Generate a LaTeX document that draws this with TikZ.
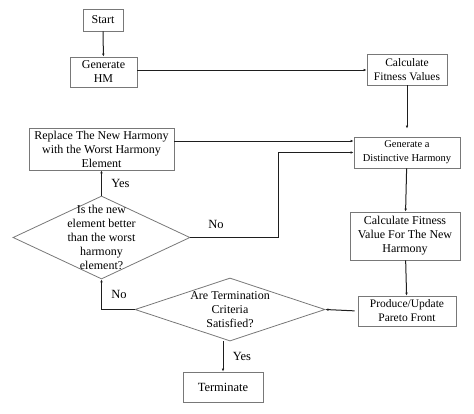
\documentclass[tikz,border=0pt]{standalone}
\usepackage{fontspec}
\setmainfont{Liberation Serif}
\usetikzlibrary{shapes.geometric,arrows.meta,positioning,calc}
\definecolor{boxline}{RGB}{120,120,120}
\definecolor{flowline}{RGB}{30,30,30}

\begin{document}
\begin{tikzpicture}[
    x=1pt, y=-1pt,
    process/.style={draw=boxline, line width=0.8pt, align=center, inner sep=1pt, font=\fontsize{11.5}{14}\selectfont},
    decision/.style={draw=boxline, line width=0.8pt, diamond, inner sep=0pt},
    dtext/.style={align=center, font=\fontsize{12}{14}\selectfont},
    arrow/.style={-{Latex[length=3pt,width=2.6pt]}, draw=flowline, line width=1pt},
    answer/.style={font=\fontsize{12.5}{14}\selectfont}
]
    \useasboundingbox (0,0) rectangle (474,413);

    % Boxes
    \node[process, minimum width=40, minimum height=22, font=\fontsize{12}{14}\selectfont] (start) at (103,20) {Start};
    \node[process, minimum width=67, minimum height=30, font=\fontsize{12}{14}\selectfont] (genhm) at (103.5,72) {Generate\\HM};
    \node[process, minimum width=80, minimum height=31] (calcfit) at (407,69.5) {Calculate\\Fitness Values};
    \node[process, minimum width=106, minimum height=31, font=\fontsize{10.5}{14}\selectfont] (gendist) at (407,152.5) {Generate a\\Distinctive Harmony};
    \node[process, minimum width=145, minimum height=42, font=\fontsize{12}{14}\selectfont] (replace) at (101.5,149) {Replace The New Harmony\\with the Worst Harmony\\Element};
    \node[process, minimum width=110, minimum height=48, font=\fontsize{12}{14}\selectfont] (calcnew) at (405,236) {Calculate Fitness\\Value For The New\\Harmony};
    \node[process, minimum width=98, minimum height=30] (produce) at (407,311) {Produce/Update\\Pareto Front};
    \node[process, minimum width=80, minimum height=30, font=\fontsize{12.5}{14}\selectfont] (terminate) at (223,387) {Terminate};

    % Decisions
    \node[decision, minimum width=177, minimum height=83] (better) at (101.5,237.5) {};
    \node[dtext] at (better.center) {Is the new\\element better\\than the worst\\harmony\\element?};
    \node[decision, minimum width=190, minimum height=63] (criteria) at (230,309.5) {};
    \node[dtext] at (criteria.center) {Are Termination\\Criteria\\Satisfied?};

    % Flow
    \draw[arrow] (start) -- (genhm);
    \draw[arrow] ([yshift=2]genhm.east) -- ([yshift=2]genhm.east -| calcfit.west);
    \draw[arrow, shorten >=8pt] (calcfit) -- (gendist);
    \draw[arrow] ([yshift=8]replace.east) -- ([yshift=8]replace.east -| gendist.west);
    \draw[arrow] (better.east) -- ++(88,0) |- (gendist.west);
    \draw[arrow] (better.north) -- node[answer, right=6pt] {Yes} (replace.south);
    \draw[arrow] (gendist) -- (calcnew);
    \draw[arrow] (calcnew) -- (produce);
    \draw[arrow, shorten <=3pt] (produce.west) -- (criteria.east);
    \draw[arrow] (criteria.west) -| node[answer, pos=0.75, right=6pt] {No} (better.south);
    \draw[arrow] (terminate.north |- criteria.south) -- node[answer, right=6pt] {Yes} (terminate.north);
    \node[answer] (nolabel) at (216,224) {No};
\end{tikzpicture}
\end{document}
